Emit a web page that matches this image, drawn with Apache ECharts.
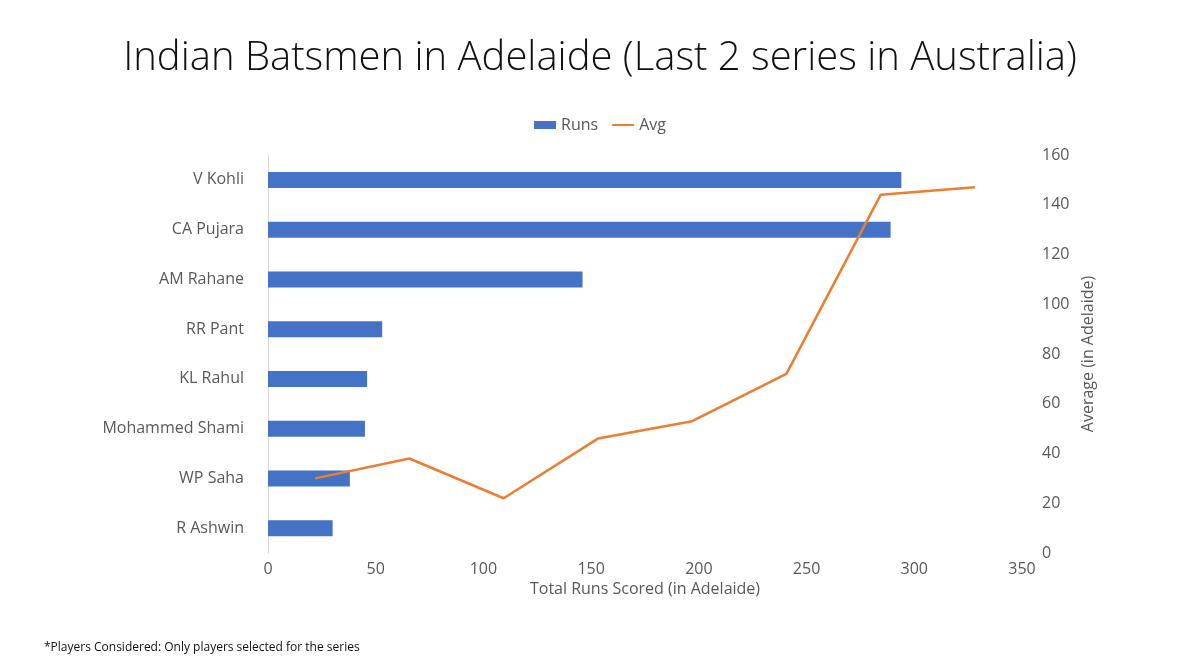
<!DOCTYPE html>
<html><head><meta charset="utf-8">
<script src="https://cdn.jsdelivr.net/npm/echarts@6/dist/echarts.min.js"></script>
<style>html,body{margin:0;background:#fff}#c{width:1200px;height:667px}</style>
</head><body><div id="c"></div>
<script>
var players = ['V Kohli', 'CA Pujara', 'AM Rahane', 'RR Pant', 'KL Rahul', 'Mohammed Shami', 'WP Saha', 'R Ashwin'];
var runs = [294, 289, 146, 53, 46, 45, 38, 30];
// line points, left to right as drawn
var avgOrder = ['R Ashwin', 'WP Saha', 'Mohammed Shami', 'KL Rahul', 'RR Pant', 'AM Rahane', 'CA Pujara', 'V Kohli'];
var avg = [30, 38, 22, 46, 53, 72, 144, 147];

var font = 'Open Sans';
var chart = echarts.init(document.getElementById('c'));
chart.setOption({
    animation: false,
    textStyle: {fontFamily: font},
    title: {
        text: 'Indian Batsmen in Adelaide (Last 2 series in Australia)',
        left: 'center', top: 34,
        textStyle: {fontSize: 40, fontWeight: 300, color: '#111', fontFamily: font}
    },
    graphic: [{
        type: 'text', left: 44, top: 642,
        style: {text: '*Players Considered: Only players selected for the series', fontSize: 12, fill: '#111', fontFamily: font}
    }],
    legend: {
        top: 112, left: 'center', itemWidth: 22, itemHeight: 8, itemGap: 14,
        textStyle: {fontSize: 16, color: '#595959'},
        data: [{name: 'Runs', icon: 'rect'}, {name: 'Avg', icon: 'path://M0,4 L22,4 L22,6 L0,6 Z'}]
    },
    grid: {left: 268, right: 178, top: 155, bottom: 114},
    xAxis: [{
        type: 'value', min: 0, max: 350, interval: 50,
        name: 'Total Runs Scored (in Adelaide)', nameLocation: 'middle', nameGap: 28,
        nameTextStyle: {fontSize: 16, color: '#595959'},
        axisLabel: {fontSize: 16, color: '#595959'},
        axisLine: {show: false}, axisTick: {show: false}, splitLine: {show: false}
    }, {
        type: 'category', data: avgOrder, boundaryGap: true, show: false, position: 'top'
    }],
    yAxis: [{
        type: 'category', data: players, inverse: true,
        axisLabel: {fontSize: 16, color: '#595959', margin: 24},
        axisLine: {lineStyle: {color: '#d9d9d9'}}, axisTick: {show: false}
    }, {
        type: 'value', min: 0, max: 160, interval: 20, position: 'right',
        name: 'Average (in Adelaide)', nameLocation: 'middle', nameGap: 52, nameRotate: 90,
        nameTextStyle: {fontSize: 16, color: '#595959'},
        axisLabel: {fontSize: 16, color: '#595959', margin: 20},
        axisLine: {show: false}, axisTick: {show: false}, splitLine: {show: false}
    }],
    series: [{
        name: 'Runs', type: 'bar', data: runs, barWidth: 16,
        xAxisIndex: 0, yAxisIndex: 0, itemStyle: {color: '#4472c4'}
    }, {
        name: 'Avg', type: 'line', data: avg, xAxisIndex: 1, yAxisIndex: 1,
        showSymbol: false, lineStyle: {color: '#ed7d31', width: 2.5}, itemStyle: {color: '#ed7d31'}
    }]
});
</script></body></html>
